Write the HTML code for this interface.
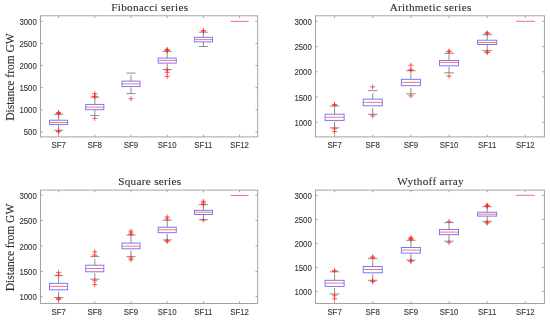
<!DOCTYPE html>
<html><head><meta charset="utf-8"><style>
html,body{margin:0;padding:0;background:#fff;}
body{width:550px;height:322px;overflow:hidden;}
svg{display:block;}
.ax{fill:none;stroke:#9a9a9a;stroke-width:0.9;}
.tk{fill:none;stroke:#9a9a9a;stroke-width:0.9;}
.wh{stroke:#5a5a5a;stroke-width:0.7;stroke-dasharray:6 3;}
.cap{stroke:#5a5a5a;stroke-width:0.7;}
.bx{fill:none;stroke:#6b6bff;stroke-width:0.9;}
.md{stroke:#ff6464;stroke-width:0.9;}
.md0{stroke:#f25c80;stroke-width:0.9;}
.ol{fill:none;stroke:#ff2020;stroke-width:0.75;}
text{font-family:"Liberation Sans",Arial,sans-serif;fill:#333333;stroke:#333333;stroke-width:0.1px;}
.yl{font-size:8.8px;text-anchor:end;}
.xl{font-size:8.8px;text-anchor:middle;}
.tt{font-family:"Liberation Serif","Times New Roman",serif;font-size:11.2px;letter-spacing:0.3px;stroke:#2a2a2a;stroke-width:0.08px;text-anchor:middle;fill:#2a2a2a;}
.ylab{font-family:"Liberation Serif","Times New Roman",serif;font-size:12.8px;stroke:#2a2a2a;stroke-width:0.12px;text-anchor:middle;fill:#2a2a2a;}
</style></head><body>
<svg width="550" height="322" viewBox="0 0 550 322">
<line x1="58.6" y1="120.2" x2="58.6" y2="114.3" class="wh"/>
<line x1="58.6" y1="130.3" x2="58.6" y2="124.6" class="wh"/>
<line x1="54.07" y1="114.3" x2="63.12" y2="114.3" class="cap"/>
<line x1="54.07" y1="130.3" x2="63.12" y2="130.3" class="cap"/>
<rect x="49.55" y="120.2" width="18.1" height="4.4" class="bx"/>
<line x1="49.55" y1="122.5" x2="67.65" y2="122.5" class="md"/>
<path d="M56.1 113h5M58.6 110.5v5" class="ol"/>
<path d="M56.1 112.4h5M58.6 109.9v5" class="ol"/>
<path d="M56.1 113.6h5M58.6 111.1v5" class="ol"/>
<path d="M56.1 131.3h5M58.6 128.8v5" class="ol"/>
<path d="M56.1 131.8h5M58.6 129.3v5" class="ol"/>
<line x1="94.8" y1="104.4" x2="94.8" y2="97.2" class="wh"/>
<line x1="94.8" y1="115.6" x2="94.8" y2="109.7" class="wh"/>
<line x1="90.27" y1="97.2" x2="99.33" y2="97.2" class="cap"/>
<line x1="90.27" y1="115.6" x2="99.33" y2="115.6" class="cap"/>
<rect x="85.75" y="104.4" width="18.1" height="5.3" class="bx"/>
<line x1="85.75" y1="107.1" x2="103.85" y2="107.1" class="md"/>
<path d="M92.3 93.6h5M94.8 91.1v5" class="ol"/>
<path d="M92.3 96.7h5M94.8 94.2v5" class="ol"/>
<path d="M92.3 96.2h5M94.8 93.7v5" class="ol"/>
<path d="M92.3 118.4h5M94.8 115.9v5" class="ol"/>
<line x1="131" y1="81.1" x2="131" y2="73.1" class="wh"/>
<line x1="131" y1="93.6" x2="131" y2="86.6" class="wh"/>
<line x1="126.47" y1="73.1" x2="135.53" y2="73.1" class="cap"/>
<line x1="126.47" y1="93.6" x2="135.53" y2="93.6" class="cap"/>
<rect x="121.95" y="81.1" width="18.1" height="5.5" class="bx"/>
<line x1="121.95" y1="83.9" x2="140.05" y2="83.9" class="md"/>
<path d="M128.5 98.7h5M131 96.2v5" class="ol"/>
<line x1="167.2" y1="58.1" x2="167.2" y2="51.4" class="wh"/>
<line x1="167.2" y1="69.6" x2="167.2" y2="63.1" class="wh"/>
<line x1="162.67" y1="51.4" x2="171.72" y2="51.4" class="cap"/>
<line x1="162.67" y1="69.6" x2="171.72" y2="69.6" class="cap"/>
<rect x="158.15" y="58.1" width="18.1" height="5" class="bx"/>
<line x1="158.15" y1="60.4" x2="176.25" y2="60.4" class="md"/>
<path d="M164.7 50.7h5M167.2 48.2v5" class="ol"/>
<path d="M164.7 50h5M167.2 47.5v5" class="ol"/>
<path d="M164.7 49.6h5M167.2 47.1v5" class="ol"/>
<path d="M164.7 69.9h5M167.2 67.4v5" class="ol"/>
<path d="M164.7 72.3h5M167.2 69.8v5" class="ol"/>
<path d="M164.7 76.4h5M167.2 73.9v5" class="ol"/>
<line x1="203.4" y1="37.3" x2="203.4" y2="32.2" class="wh"/>
<line x1="203.4" y1="46.5" x2="203.4" y2="41.9" class="wh"/>
<line x1="198.87" y1="32.2" x2="207.92" y2="32.2" class="cap"/>
<line x1="198.87" y1="46.5" x2="207.92" y2="46.5" class="cap"/>
<rect x="194.35" y="37.3" width="18.1" height="4.6" class="bx"/>
<line x1="194.35" y1="39.6" x2="212.45" y2="39.6" class="md"/>
<path d="M200.9 31h5M203.4 28.5v5" class="ol"/>
<path d="M200.9 30.6h5M203.4 28.1v5" class="ol"/>
<line x1="230.55" y1="21.4" x2="248.65" y2="21.4" class="md0"/>
<rect x="40.5" y="15.8" width="217.2" height="121.1" class="ax"/>
<path d="M58.6 136.9v-2.2M58.6 15.8v2.2" class="tk"/>
<path d="M94.8 136.9v-2.2M94.8 15.8v2.2" class="tk"/>
<path d="M131 136.9v-2.2M131 15.8v2.2" class="tk"/>
<path d="M167.2 136.9v-2.2M167.2 15.8v2.2" class="tk"/>
<path d="M203.4 136.9v-2.2M203.4 15.8v2.2" class="tk"/>
<path d="M239.6 136.9v-2.2M239.6 15.8v2.2" class="tk"/>
<path d="M40.5 21.3h2.2M257.7 21.3h-2.2" class="tk"/>
<text transform="translate(36.8 24.95) scale(0.89 1)" class="yl">3000</text>
<path d="M40.5 43.4h2.2M257.7 43.4h-2.2" class="tk"/>
<text transform="translate(36.8 47.05) scale(0.89 1)" class="yl">2500</text>
<path d="M40.5 65.5h2.2M257.7 65.5h-2.2" class="tk"/>
<text transform="translate(36.8 69.15) scale(0.89 1)" class="yl">2000</text>
<path d="M40.5 87.6h2.2M257.7 87.6h-2.2" class="tk"/>
<text transform="translate(36.8 91.25) scale(0.89 1)" class="yl">1500</text>
<path d="M40.5 109.7h2.2M257.7 109.7h-2.2" class="tk"/>
<text transform="translate(36.8 113.35) scale(0.89 1)" class="yl">1000</text>
<path d="M40.5 131.8h2.2M257.7 131.8h-2.2" class="tk"/>
<text transform="translate(36.8 135.45) scale(0.89 1)" class="yl">500</text>
<text transform="translate(58.6 148.1) scale(0.89 1)" class="xl">SF7</text>
<text transform="translate(94.8 148.1) scale(0.89 1)" class="xl">SF8</text>
<text transform="translate(131 148.1) scale(0.89 1)" class="xl">SF9</text>
<text transform="translate(167.2 148.1) scale(0.89 1)" class="xl">SF10</text>
<text transform="translate(203.4 148.1) scale(0.89 1)" class="xl">SF11</text>
<text transform="translate(239.6 148.1) scale(0.89 1)" class="xl">SF12</text>
<text x="149.8" y="10.7" class="tt">Fibonacci series</text>
<text transform="translate(14.3 77.05) rotate(-90) scale(0.9 1)" class="ylab">Distance from GW</text>
<line x1="334.57" y1="114.2" x2="334.57" y2="106" class="wh"/>
<line x1="334.57" y1="127.8" x2="334.57" y2="120.4" class="wh"/>
<line x1="329.81" y1="106" x2="339.34" y2="106" class="cap"/>
<line x1="329.81" y1="127.8" x2="339.34" y2="127.8" class="cap"/>
<rect x="325.04" y="114.2" width="19.07" height="6.2" class="bx"/>
<line x1="325.04" y1="117.2" x2="344.11" y2="117.2" class="md"/>
<path d="M332.07 105.1h5M334.57 102.6v5" class="ol"/>
<path d="M332.07 104.6h5M334.57 102.1v5" class="ol"/>
<path d="M332.07 128.9h5M334.57 126.4v5" class="ol"/>
<path d="M332.07 131.6h5M334.57 129.1v5" class="ol"/>
<line x1="372.73" y1="99.1" x2="372.73" y2="90.7" class="wh"/>
<line x1="372.73" y1="114.3" x2="372.73" y2="105.8" class="wh"/>
<line x1="367.96" y1="90.7" x2="377.49" y2="90.7" class="cap"/>
<line x1="367.96" y1="114.3" x2="377.49" y2="114.3" class="cap"/>
<rect x="363.19" y="99.1" width="19.07" height="6.7" class="bx"/>
<line x1="363.19" y1="102.4" x2="382.26" y2="102.4" class="md"/>
<path d="M370.23 86.9h5M372.73 84.4v5" class="ol"/>
<path d="M370.23 115.9h5M372.73 113.4v5" class="ol"/>
<line x1="410.88" y1="79.3" x2="410.88" y2="70.7" class="wh"/>
<line x1="410.88" y1="93.9" x2="410.88" y2="85.7" class="wh"/>
<line x1="406.11" y1="70.7" x2="415.64" y2="70.7" class="cap"/>
<line x1="406.11" y1="93.9" x2="415.64" y2="93.9" class="cap"/>
<rect x="401.34" y="79.3" width="19.07" height="6.4" class="bx"/>
<line x1="401.34" y1="82.4" x2="420.41" y2="82.4" class="md"/>
<path d="M408.38 65.2h5M410.88 62.7v5" class="ol"/>
<path d="M408.38 70.4h5M410.88 67.9v5" class="ol"/>
<path d="M408.38 69.8h5M410.88 67.3v5" class="ol"/>
<path d="M408.38 95.9h5M410.88 93.4v5" class="ol"/>
<line x1="449.02" y1="60.5" x2="449.02" y2="53.3" class="wh"/>
<line x1="449.02" y1="72.9" x2="449.02" y2="65.8" class="wh"/>
<line x1="444.26" y1="53.3" x2="453.79" y2="53.3" class="cap"/>
<line x1="444.26" y1="72.9" x2="453.79" y2="72.9" class="cap"/>
<rect x="439.49" y="60.5" width="19.07" height="5.3" class="bx"/>
<line x1="439.49" y1="62.4" x2="458.56" y2="62.4" class="md"/>
<path d="M446.52 51.7h5M449.02 49.2v5" class="ol"/>
<path d="M446.52 51.2h5M449.02 48.7v5" class="ol"/>
<path d="M446.52 76.1h5M449.02 73.6v5" class="ol"/>
<line x1="487.17" y1="40.2" x2="487.17" y2="34.6" class="wh"/>
<line x1="487.17" y1="50.7" x2="487.17" y2="44.5" class="wh"/>
<line x1="482.41" y1="34.6" x2="491.94" y2="34.6" class="cap"/>
<line x1="482.41" y1="50.7" x2="491.94" y2="50.7" class="cap"/>
<rect x="477.64" y="40.2" width="19.07" height="4.3" class="bx"/>
<line x1="477.64" y1="42.5" x2="496.71" y2="42.5" class="md"/>
<path d="M484.67 33.3h5M487.17 30.8v5" class="ol"/>
<path d="M484.67 32.8h5M487.17 30.3v5" class="ol"/>
<path d="M484.67 52h5M487.17 49.5v5" class="ol"/>
<path d="M484.67 52.6h5M487.17 50.1v5" class="ol"/>
<line x1="515.79" y1="21.3" x2="534.86" y2="21.3" class="md0"/>
<rect x="315.5" y="15.8" width="228.9" height="121.1" class="ax"/>
<path d="M334.57 136.9v-2.2M334.57 15.8v2.2" class="tk"/>
<path d="M372.73 136.9v-2.2M372.73 15.8v2.2" class="tk"/>
<path d="M410.88 136.9v-2.2M410.88 15.8v2.2" class="tk"/>
<path d="M449.02 136.9v-2.2M449.02 15.8v2.2" class="tk"/>
<path d="M487.17 136.9v-2.2M487.17 15.8v2.2" class="tk"/>
<path d="M525.33 136.9v-2.2M525.33 15.8v2.2" class="tk"/>
<path d="M315.5 21.3h2.2M544.4 21.3h-2.2" class="tk"/>
<text transform="translate(311.8 24.95) scale(0.89 1)" class="yl">3000</text>
<path d="M315.5 46.5h2.2M544.4 46.5h-2.2" class="tk"/>
<text transform="translate(311.8 50.15) scale(0.89 1)" class="yl">2500</text>
<path d="M315.5 71.8h2.2M544.4 71.8h-2.2" class="tk"/>
<text transform="translate(311.8 75.45) scale(0.89 1)" class="yl">2000</text>
<path d="M315.5 97h2.2M544.4 97h-2.2" class="tk"/>
<text transform="translate(311.8 100.65) scale(0.89 1)" class="yl">1500</text>
<path d="M315.5 122.3h2.2M544.4 122.3h-2.2" class="tk"/>
<text transform="translate(311.8 125.95) scale(0.89 1)" class="yl">1000</text>
<text transform="translate(334.57 148.1) scale(0.89 1)" class="xl">SF7</text>
<text transform="translate(372.73 148.1) scale(0.89 1)" class="xl">SF8</text>
<text transform="translate(410.88 148.1) scale(0.89 1)" class="xl">SF9</text>
<text transform="translate(449.02 148.1) scale(0.89 1)" class="xl">SF10</text>
<text transform="translate(487.17 148.1) scale(0.89 1)" class="xl">SF11</text>
<text transform="translate(525.33 148.1) scale(0.89 1)" class="xl">SF12</text>
<text x="430.65" y="10.7" class="tt">Arithmetic series</text>
<line x1="58.6" y1="283.3" x2="58.6" y2="275.7" class="wh"/>
<line x1="58.6" y1="297.5" x2="58.6" y2="289.8" class="wh"/>
<line x1="54.07" y1="275.7" x2="63.12" y2="275.7" class="cap"/>
<line x1="54.07" y1="297.5" x2="63.12" y2="297.5" class="cap"/>
<rect x="49.55" y="283.3" width="18.1" height="6.5" class="bx"/>
<line x1="49.55" y1="286.4" x2="67.65" y2="286.4" class="md"/>
<path d="M56.1 272.4h5M58.6 269.9v5" class="ol"/>
<path d="M56.1 275h5M58.6 272.5v5" class="ol"/>
<path d="M56.1 298.6h5M58.6 296.1v5" class="ol"/>
<path d="M56.1 299.5h5M58.6 297v5" class="ol"/>
<line x1="94.8" y1="265.2" x2="94.8" y2="256.4" class="wh"/>
<line x1="94.8" y1="279.2" x2="94.8" y2="271.8" class="wh"/>
<line x1="90.27" y1="256.4" x2="99.33" y2="256.4" class="cap"/>
<line x1="90.27" y1="279.2" x2="99.33" y2="279.2" class="cap"/>
<rect x="85.75" y="265.2" width="18.1" height="6.6" class="bx"/>
<line x1="85.75" y1="268.5" x2="103.85" y2="268.5" class="md"/>
<path d="M92.3 251.8h5M94.8 249.3v5" class="ol"/>
<path d="M92.3 255h5M94.8 252.5v5" class="ol"/>
<path d="M92.3 280.8h5M94.8 278.3v5" class="ol"/>
<path d="M92.3 284.6h5M94.8 282.1v5" class="ol"/>
<line x1="131" y1="243.1" x2="131" y2="235.1" class="wh"/>
<line x1="131" y1="256.6" x2="131" y2="248.8" class="wh"/>
<line x1="126.47" y1="235.1" x2="135.53" y2="235.1" class="cap"/>
<line x1="126.47" y1="256.6" x2="135.53" y2="256.6" class="cap"/>
<rect x="121.95" y="243.1" width="18.1" height="5.7" class="bx"/>
<line x1="121.95" y1="246.2" x2="140.05" y2="246.2" class="md"/>
<path d="M128.5 231.1h5M131 228.6v5" class="ol"/>
<path d="M128.5 233h5M131 230.5v5" class="ol"/>
<path d="M128.5 234.6h5M131 232.1v5" class="ol"/>
<path d="M128.5 258h5M131 255.5v5" class="ol"/>
<path d="M128.5 259.8h5M131 257.3v5" class="ol"/>
<line x1="167.2" y1="227.2" x2="167.2" y2="220.3" class="wh"/>
<line x1="167.2" y1="239.9" x2="167.2" y2="232.7" class="wh"/>
<line x1="162.67" y1="220.3" x2="171.72" y2="220.3" class="cap"/>
<line x1="162.67" y1="239.9" x2="171.72" y2="239.9" class="cap"/>
<rect x="158.15" y="227.2" width="18.1" height="5.5" class="bx"/>
<line x1="158.15" y1="229.8" x2="176.25" y2="229.8" class="md"/>
<path d="M164.7 217h5M167.2 214.5v5" class="ol"/>
<path d="M164.7 219h5M167.2 216.5v5" class="ol"/>
<path d="M164.7 240.9h5M167.2 238.4v5" class="ol"/>
<path d="M164.7 241.4h5M167.2 238.9v5" class="ol"/>
<line x1="203.4" y1="210.3" x2="203.4" y2="204.7" class="wh"/>
<line x1="203.4" y1="219.7" x2="203.4" y2="214.5" class="wh"/>
<line x1="198.87" y1="204.7" x2="207.92" y2="204.7" class="cap"/>
<line x1="198.87" y1="219.7" x2="207.92" y2="219.7" class="cap"/>
<rect x="194.35" y="210.3" width="18.1" height="4.2" class="bx"/>
<line x1="194.35" y1="212.2" x2="212.45" y2="212.2" class="md"/>
<path d="M200.9 201.4h5M203.4 198.9v5" class="ol"/>
<path d="M200.9 203h5M203.4 200.5v5" class="ol"/>
<path d="M200.9 204.4h5M203.4 201.9v5" class="ol"/>
<path d="M200.9 220.1h5M203.4 217.6v5" class="ol"/>
<line x1="230.55" y1="195.5" x2="248.65" y2="195.5" class="md0"/>
<rect x="40.5" y="190.1" width="217.2" height="113.4" class="ax"/>
<path d="M58.6 303.5v-2.2M58.6 190.1v2.2" class="tk"/>
<path d="M94.8 303.5v-2.2M94.8 190.1v2.2" class="tk"/>
<path d="M131 303.5v-2.2M131 190.1v2.2" class="tk"/>
<path d="M167.2 303.5v-2.2M167.2 190.1v2.2" class="tk"/>
<path d="M203.4 303.5v-2.2M203.4 190.1v2.2" class="tk"/>
<path d="M239.6 303.5v-2.2M239.6 190.1v2.2" class="tk"/>
<path d="M40.5 195.2h2.2M257.7 195.2h-2.2" class="tk"/>
<text transform="translate(36.8 198.85) scale(0.89 1)" class="yl">3000</text>
<path d="M40.5 220.6h2.2M257.7 220.6h-2.2" class="tk"/>
<text transform="translate(36.8 224.25) scale(0.89 1)" class="yl">2500</text>
<path d="M40.5 246h2.2M257.7 246h-2.2" class="tk"/>
<text transform="translate(36.8 249.65) scale(0.89 1)" class="yl">2000</text>
<path d="M40.5 271.4h2.2M257.7 271.4h-2.2" class="tk"/>
<text transform="translate(36.8 275.05) scale(0.89 1)" class="yl">1500</text>
<path d="M40.5 296.8h2.2M257.7 296.8h-2.2" class="tk"/>
<text transform="translate(36.8 300.45) scale(0.89 1)" class="yl">1000</text>
<text transform="translate(58.6 314.9) scale(0.89 1)" class="xl">SF7</text>
<text transform="translate(94.8 314.9) scale(0.89 1)" class="xl">SF8</text>
<text transform="translate(131 314.9) scale(0.89 1)" class="xl">SF9</text>
<text transform="translate(167.2 314.9) scale(0.89 1)" class="xl">SF10</text>
<text transform="translate(203.4 314.9) scale(0.89 1)" class="xl">SF11</text>
<text transform="translate(239.6 314.9) scale(0.89 1)" class="xl">SF12</text>
<text x="149.8" y="185" class="tt">Square series</text>
<text transform="translate(14.3 247.5) rotate(-90) scale(0.9 1)" class="ylab">Distance from GW</text>
<line x1="334.57" y1="280.3" x2="334.57" y2="271.8" class="wh"/>
<line x1="334.57" y1="294" x2="334.57" y2="286.4" class="wh"/>
<line x1="329.81" y1="271.8" x2="339.34" y2="271.8" class="cap"/>
<line x1="329.81" y1="294" x2="339.34" y2="294" class="cap"/>
<rect x="325.04" y="280.3" width="19.07" height="6.1" class="bx"/>
<line x1="325.04" y1="283.1" x2="344.11" y2="283.1" class="md"/>
<path d="M332.07 271.1h5M334.57 268.6v5" class="ol"/>
<path d="M332.07 270.6h5M334.57 268.1v5" class="ol"/>
<path d="M332.07 295.7h5M334.57 293.2v5" class="ol"/>
<path d="M332.07 298.8h5M334.57 296.3v5" class="ol"/>
<line x1="372.73" y1="266.5" x2="372.73" y2="258.7" class="wh"/>
<line x1="372.73" y1="280.3" x2="372.73" y2="272.8" class="wh"/>
<line x1="367.96" y1="258.7" x2="377.49" y2="258.7" class="cap"/>
<line x1="367.96" y1="280.3" x2="377.49" y2="280.3" class="cap"/>
<rect x="363.19" y="266.5" width="19.07" height="6.3" class="bx"/>
<line x1="363.19" y1="269.5" x2="382.26" y2="269.5" class="md"/>
<path d="M370.23 257.5h5M372.73 255v5" class="ol"/>
<path d="M370.23 257h5M372.73 254.5v5" class="ol"/>
<path d="M370.23 281.2h5M372.73 278.7v5" class="ol"/>
<path d="M370.23 281.6h5M372.73 279.1v5" class="ol"/>
<line x1="410.88" y1="247.5" x2="410.88" y2="240.3" class="wh"/>
<line x1="410.88" y1="260.1" x2="410.88" y2="253.1" class="wh"/>
<line x1="406.11" y1="240.3" x2="415.64" y2="240.3" class="cap"/>
<line x1="406.11" y1="260.1" x2="415.64" y2="260.1" class="cap"/>
<rect x="401.34" y="247.5" width="19.07" height="5.6" class="bx"/>
<line x1="401.34" y1="250.1" x2="420.41" y2="250.1" class="md"/>
<path d="M408.38 237.7h5M410.88 235.2v5" class="ol"/>
<path d="M408.38 238.6h5M410.88 236.1v5" class="ol"/>
<path d="M408.38 239.6h5M410.88 237.1v5" class="ol"/>
<path d="M408.38 260.9h5M410.88 258.4v5" class="ol"/>
<path d="M408.38 261.2h5M410.88 258.7v5" class="ol"/>
<line x1="449.02" y1="229.5" x2="449.02" y2="222.6" class="wh"/>
<line x1="449.02" y1="241.2" x2="449.02" y2="234.7" class="wh"/>
<line x1="444.26" y1="222.6" x2="453.79" y2="222.6" class="cap"/>
<line x1="444.26" y1="241.2" x2="453.79" y2="241.2" class="cap"/>
<rect x="439.49" y="229.5" width="19.07" height="5.2" class="bx"/>
<line x1="439.49" y1="232.1" x2="458.56" y2="232.1" class="md"/>
<path d="M446.52 221.4h5M449.02 218.9v5" class="ol"/>
<path d="M446.52 242.6h5M449.02 240.1v5" class="ol"/>
<line x1="487.17" y1="212.2" x2="487.17" y2="206.7" class="wh"/>
<line x1="487.17" y1="221.3" x2="487.17" y2="216.1" class="wh"/>
<line x1="482.41" y1="206.7" x2="491.94" y2="206.7" class="cap"/>
<line x1="482.41" y1="221.3" x2="491.94" y2="221.3" class="cap"/>
<rect x="477.64" y="212.2" width="19.07" height="3.9" class="bx"/>
<line x1="477.64" y1="214.2" x2="496.71" y2="214.2" class="md"/>
<path d="M484.67 205h5M487.17 202.5v5" class="ol"/>
<path d="M484.67 205.8h5M487.17 203.3v5" class="ol"/>
<path d="M484.67 206.4h5M487.17 203.9v5" class="ol"/>
<path d="M484.67 222.6h5M487.17 220.1v5" class="ol"/>
<path d="M484.67 222.9h5M487.17 220.4v5" class="ol"/>
<line x1="515.79" y1="195.3" x2="534.86" y2="195.3" class="md0"/>
<rect x="315.5" y="190.1" width="228.9" height="113.4" class="ax"/>
<path d="M334.57 303.5v-2.2M334.57 190.1v2.2" class="tk"/>
<path d="M372.73 303.5v-2.2M372.73 190.1v2.2" class="tk"/>
<path d="M410.88 303.5v-2.2M410.88 190.1v2.2" class="tk"/>
<path d="M449.02 303.5v-2.2M449.02 190.1v2.2" class="tk"/>
<path d="M487.17 303.5v-2.2M487.17 190.1v2.2" class="tk"/>
<path d="M525.33 303.5v-2.2M525.33 190.1v2.2" class="tk"/>
<path d="M315.5 195.4h2.2M544.4 195.4h-2.2" class="tk"/>
<text transform="translate(311.8 199.05) scale(0.89 1)" class="yl">3000</text>
<path d="M315.5 219.4h2.2M544.4 219.4h-2.2" class="tk"/>
<text transform="translate(311.8 223.05) scale(0.89 1)" class="yl">2500</text>
<path d="M315.5 243.4h2.2M544.4 243.4h-2.2" class="tk"/>
<text transform="translate(311.8 247.05) scale(0.89 1)" class="yl">2000</text>
<path d="M315.5 267.4h2.2M544.4 267.4h-2.2" class="tk"/>
<text transform="translate(311.8 271.05) scale(0.89 1)" class="yl">1500</text>
<path d="M315.5 291.4h2.2M544.4 291.4h-2.2" class="tk"/>
<text transform="translate(311.8 295.05) scale(0.89 1)" class="yl">1000</text>
<text transform="translate(334.57 314.9) scale(0.89 1)" class="xl">SF7</text>
<text transform="translate(372.73 314.9) scale(0.89 1)" class="xl">SF8</text>
<text transform="translate(410.88 314.9) scale(0.89 1)" class="xl">SF9</text>
<text transform="translate(449.02 314.9) scale(0.89 1)" class="xl">SF10</text>
<text transform="translate(487.17 314.9) scale(0.89 1)" class="xl">SF11</text>
<text transform="translate(525.33 314.9) scale(0.89 1)" class="xl">SF12</text>
<text x="430.65" y="185" class="tt">Wythoff array</text>
</svg>
</body></html>
